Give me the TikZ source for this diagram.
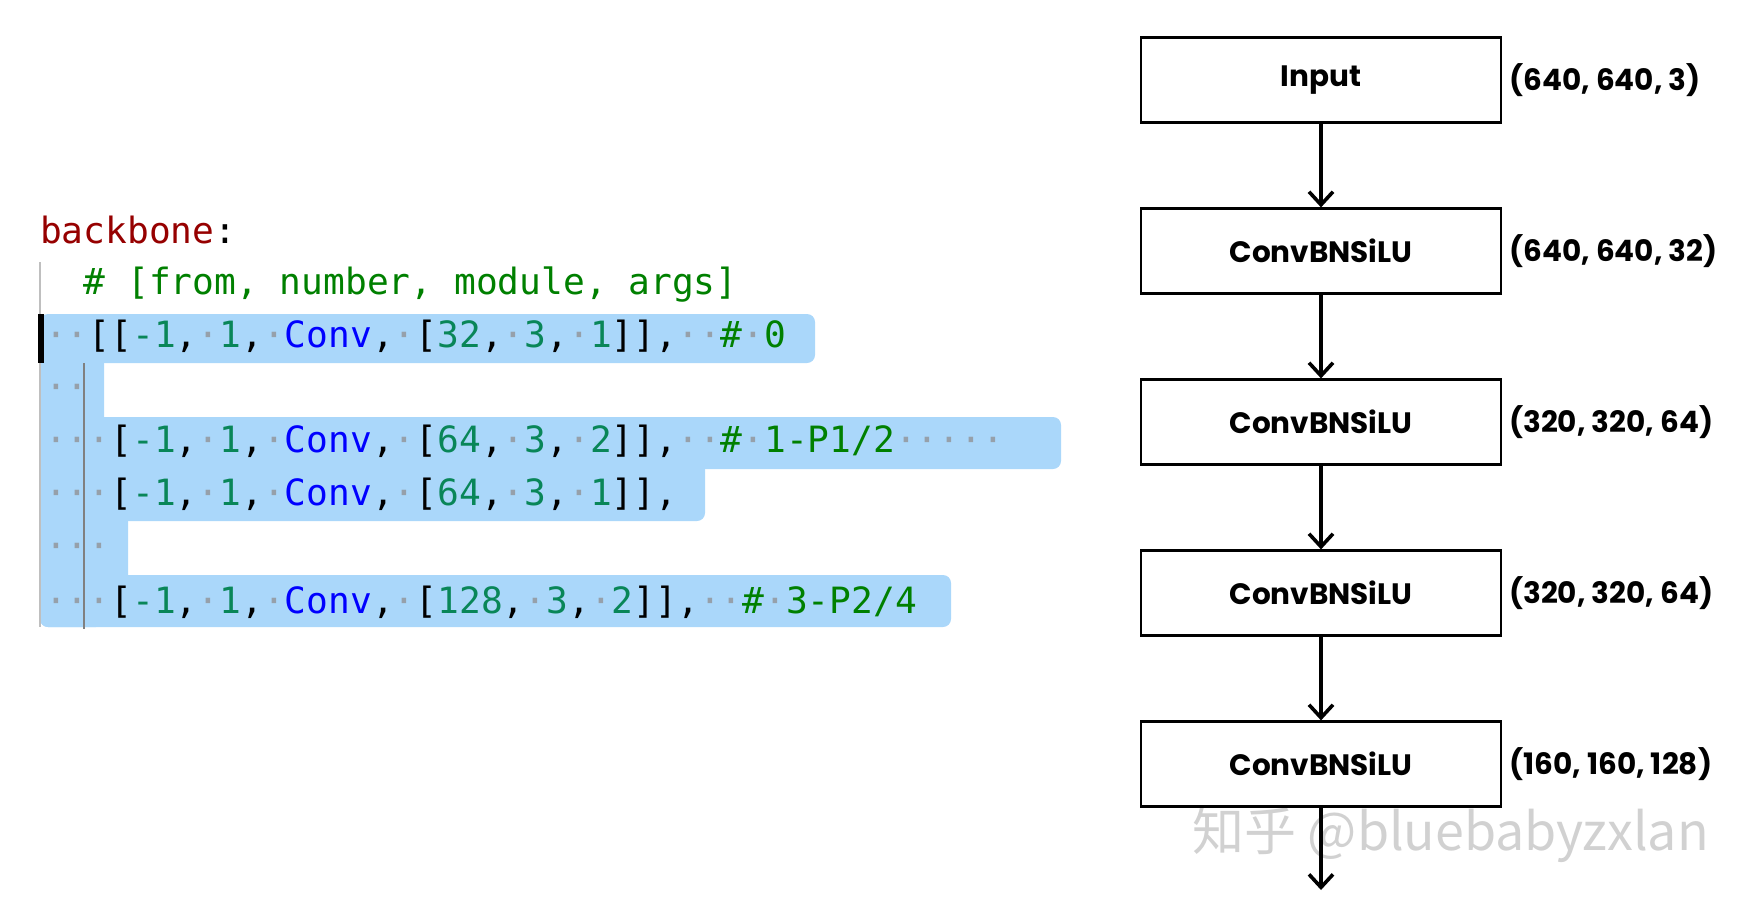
\documentclass[tikz,border=0pt]{standalone}
\usepackage{fontspec}
\usetikzlibrary{arrows.meta}
\setmonofont{DejaVu Sans Mono}
\newfontfamily\boxfont{Poppins}
\newfontfamily\cjk{Noto Sans CJK SC}
\definecolor{hl}{RGB}{170,215,250}
\definecolor{kw}{RGB}{150,0,0}
\definecolor{cm}{RGB}{0,128,0}
\definecolor{nm}{RGB}{9,134,88}
\definecolor{bl}{RGB}{0,0,255}
\definecolor{gdot}{RGB}{150,160,170}
\newcommand\gd{\textcolor{gdot}{\textperiodcentered}}
\newcommand\nn[1]{\textcolor{nm}{#1}}
\newcommand\cv{\textcolor{bl}{Conv}}
\begin{document}
\begin{tikzpicture}[x=1pt,y=-1pt,
  code/.style={anchor=base west,inner sep=0,font=\ttfamily\fontsize{36.2}{40}\selectfont},
  blk/.style={draw,line width=2.2pt,minimum width=360pt,minimum height=85pt,font=\boxfont\fontsize{29.5}{32}\selectfont\bfseries},
  lab/.style={anchor=west,inner sep=0,font=\boxfont\fontsize{29.5}{32}\selectfont\bfseries},
  arr/.style={-{Straight Barb[length=13pt,width=24pt]},line width=3.6pt}]
\useasboundingbox (0,0) rectangle (1760,910);
% highlight
\begin{scope}[fill=hl,rounded corners=8pt]
\fill (40,314) rectangle (815,363);
\fill (40,340) rectangle (104,627);
\fill (40,417) rectangle (1061,469);
\fill (40,450) rectangle (705,521);
\fill (40,500) rectangle (128,600);
\fill (40,575) rectangle (951,627);
\end{scope}
\fill[hl] (40,330) rectangle (104,420);
\fill[hl] (40,465) rectangle (128,580);
\draw[gray!50,line width=1.2pt] (40,262) -- (40,627);
\fill[black] (38,314) rectangle (44,363);
\draw[gray,line width=1.2pt] (84,363) -- (84,629);
% code
\node[code] (c0) at (40,243) {\textcolor{kw}{backbone}:};
\node[code] (c1) at (40,294) {\textcolor{cm}{\ \ \# [from, number, module, args]}};
\node[code] (c2) at (45,347) {\gd\gd[[\nn{-1},\gd\nn{1},\gd\cv,\gd[\nn{32},\gd\nn{3},\gd\nn{1}]],\gd\gd\textcolor{cm}{\#\gd0}};
\node[code] (c3) at (45,399) {\gd\gd};
\node[code] (c4) at (45,452) {\gd\gd\gd[\nn{-1},\gd\nn{1},\gd\cv,\gd[\nn{64},\gd\nn{3},\gd\nn{2}]],\gd\gd\textcolor{cm}{\#\gd1-P1/2}\gd\gd\gd\gd\gd};
\node[code] (c5) at (45,505) {\gd\gd\gd[\nn{-1},\gd\nn{1},\gd\cv,\gd[\nn{64},\gd\nn{3},\gd\nn{1}]],};
\node[code] (c6) at (45,558) {\gd\gd\gd};
\node[code] (c7) at (45,613) {\gd\gd\gd[\nn{-1},\gd\nn{1},\gd\cv,\gd[\nn{128},\gd\nn{3},\gd\nn{2}]],\gd\gd\textcolor{cm}{\#\gd3-P2/4}};
% watermark
\node[inner sep=0,anchor=west,text=black!18,font=\cjk\fontsize{52}{56}\selectfont] (wm) at (1192,835) {知乎 @bluebabyzxlan};
% blocks
\node[blk] (b0) at (1321,80) {Input};
\node[blk] (b1) at (1321,251) {ConvBNSiLU};
\node[blk] (b2) at (1321,422) {ConvBNSiLU};
\node[blk] (b3) at (1321,593) {ConvBNSiLU};
\node[blk] (b4) at (1321,764) {ConvBNSiLU};
\coordinate (end) at (1321,890);
\node[lab] (l0) at (1509,80) {(640, 640, 3)};
\node[lab] (l1) at (1509,251) {(640, 640, 32)};
\node[lab] (l2) at (1509,422) {(320, 320, 64)};
\node[lab] (l3) at (1509,593) {(320, 320, 64)};
\node[lab] (l4) at (1509,764) {(160, 160, 128)};
\draw[arr] (b0) -- (b1);
\draw[arr] (b1) -- (b2);
\draw[arr] (b2) -- (b3);
\draw[arr] (b3) -- (b4);
\draw[arr] (b4) -- (end);
\end{tikzpicture}
\end{document}
